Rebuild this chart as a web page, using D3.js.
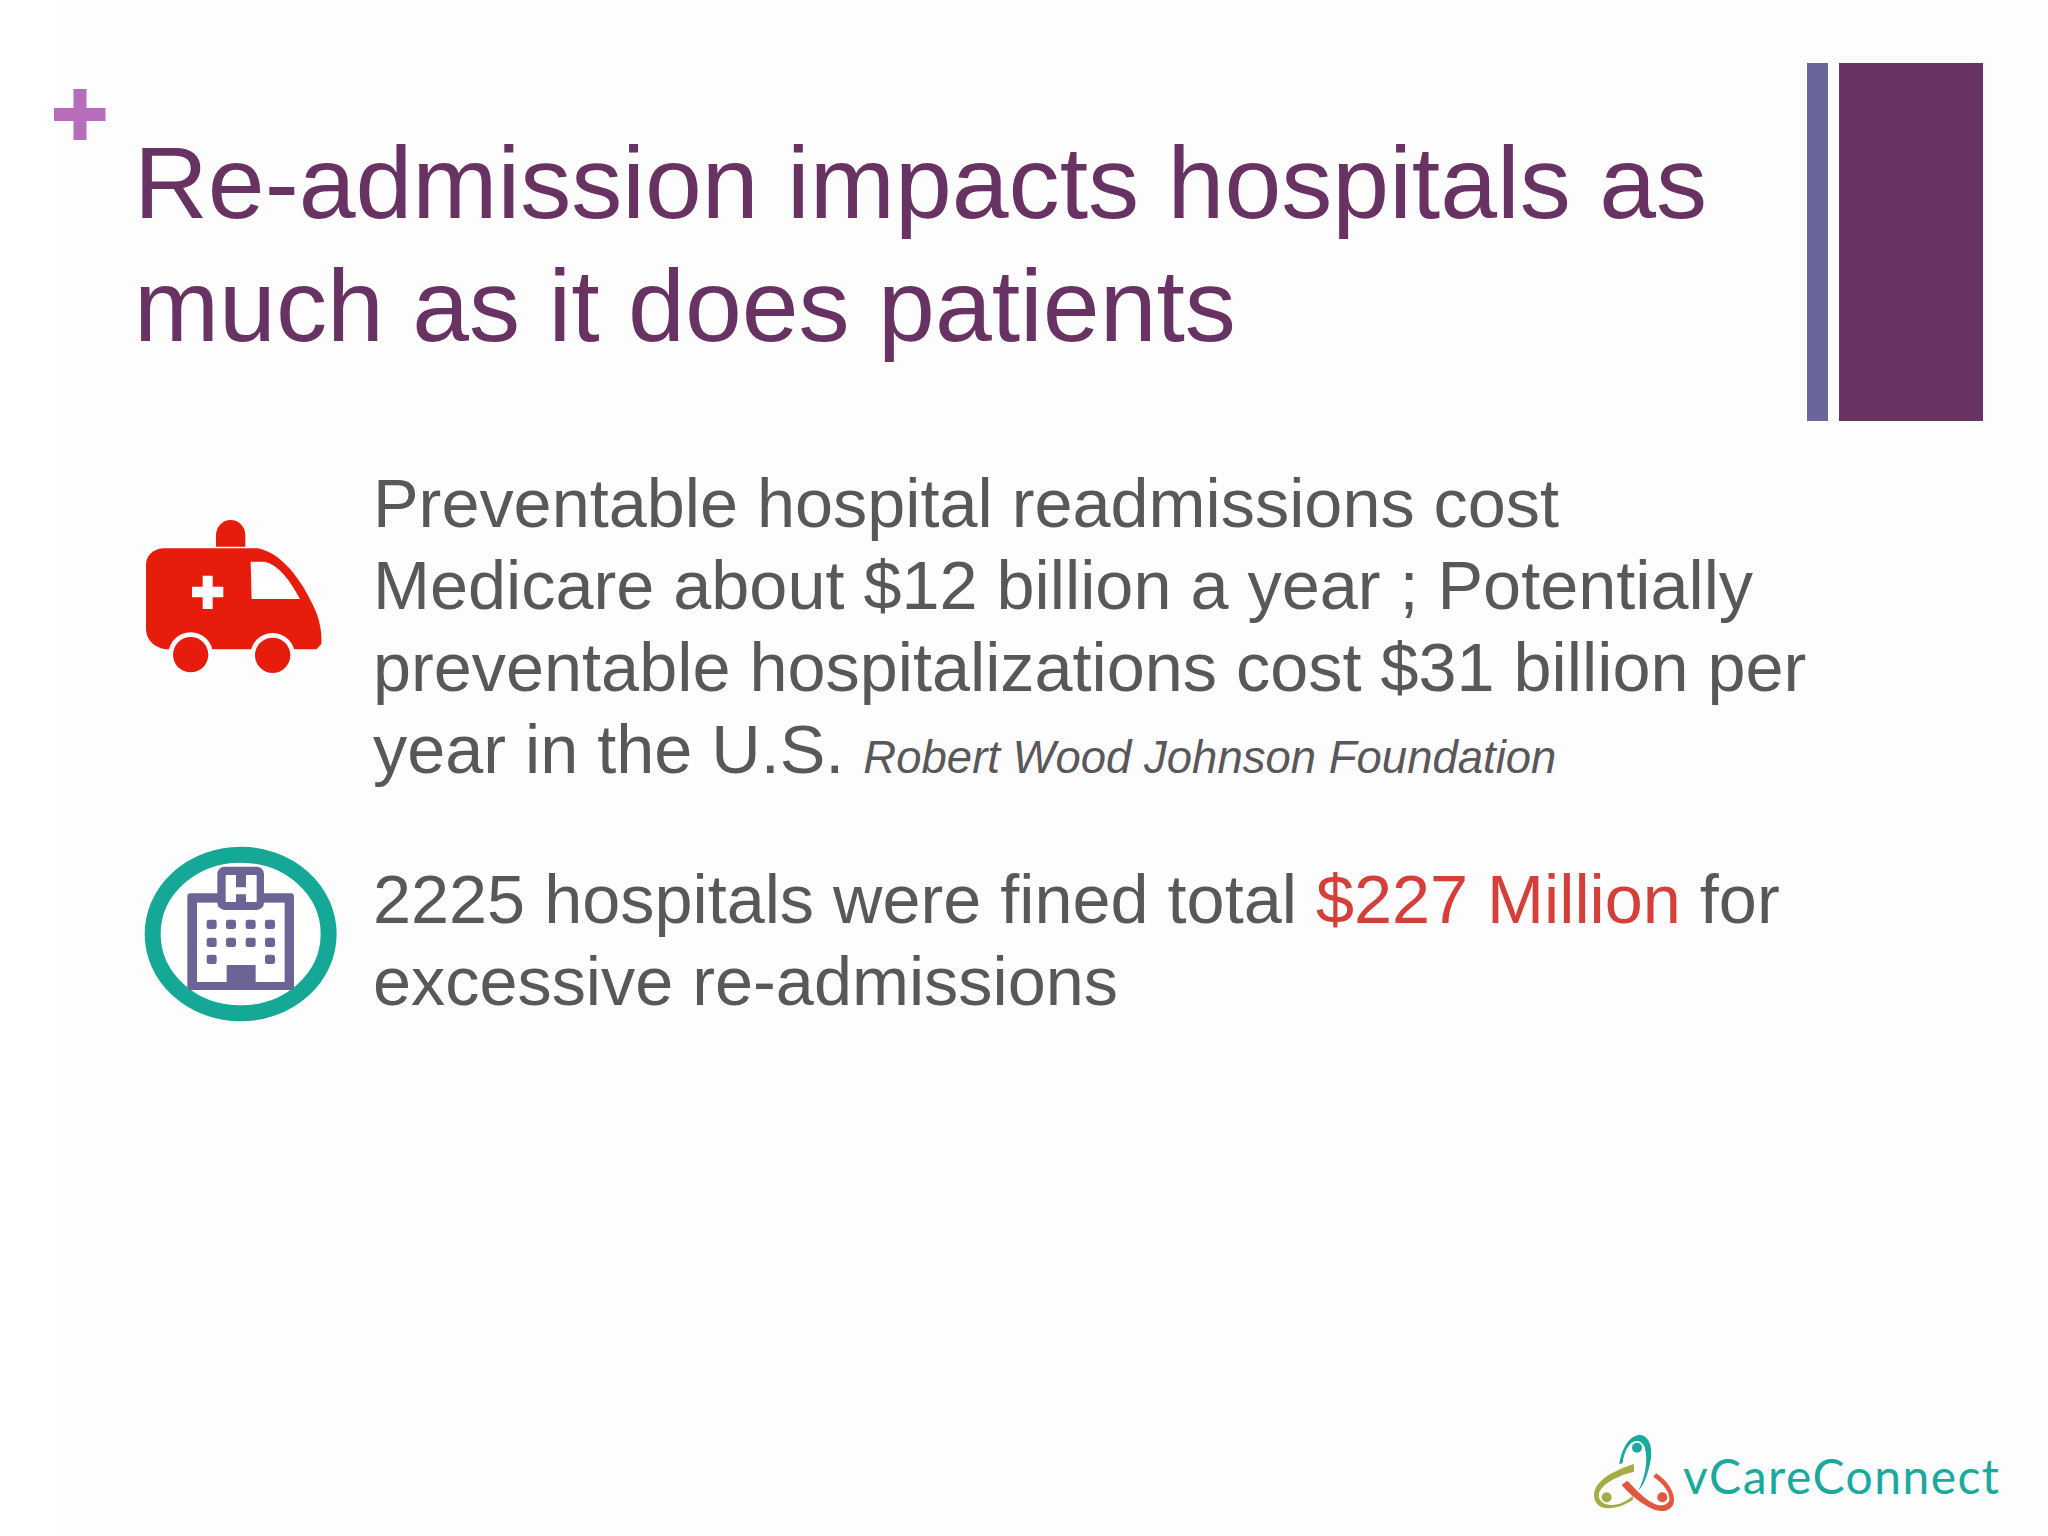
<!DOCTYPE html>
<html><head><meta charset="utf-8">
<script src="https://cdn.jsdelivr.net/npm/d3@7"></script>
<style>html,body{margin:0;padding:0;background:#fff}svg{display:block}</style>
</head><body><div id="c"></div>
<script>
const titleLines = ["Re-admission impacts hospitals as", "much as it does patients"];
const bodyLines = [
  [{t:"Preventable hospital readmissions cost"}],
  [{t:"Medicare about $12 billion a year ; Potentially"}],
  [{t:"preventable hospitalizations cost $31 billion per"}],
  [{t:"year in the U.S. "},{t:"Robert Wood Johnson Foundation",src:true}],
  [{t:"2225 hospitals were fined total "},{t:"$227 Million",hi:true},{t:" for"}],
  [{t:"excessive re-admissions"}]
];
const bodyBaselines = [527,609,691,773,923,1005];
const logoText = "vCareConnect";

const svg = d3.select("#c").append("svg").attr("width",2048).attr("height",1536);
const defs = svg.append("defs");
defs.append("filter").attr("id","soft").append("feGaussianBlur").attr("stdDeviation",2);
defs.append("filter").attr("id","softer").append("feGaussianBlur").attr("stdDeviation",1);

svg.append("rect").attr("width",2048).attr("height",1536).attr("fill","#ffffff");
svg.append("rect").attr("x",62).attr("width",1986).attr("height",1536).attr("fill","#fefdfe");

// accent bars and plus
svg.append("rect").attr("x",1807).attr("y",63).attr("width",21).attr("height",358).attr("fill","#69669a");
svg.append("rect").attr("x",1839).attr("y",63).attr("width",144).attr("height",358).attr("fill","#683363");
svg.append("path").attr("fill","#b76cbc").attr("d","M73.5 89h13v19h19v13h-19v19h-13v-19h-19.500v-13h19.500z");

// title
svg.selectAll("text.title").data(titleLines).join("text").attr("class","title")
  .attr("x",134).attr("y",(d,i)=>218+i*123)
  .attr("font-family","Liberation Sans").attr("font-size",102.2).attr("fill","#683363").text(d=>d);

// body
const body = svg.selectAll("text.body").data(bodyLines).join("text").attr("class","body")
  .attr("x",373).attr("y",(d,i)=>bodyBaselines[i])
  .attr("font-family","Liberation Sans").attr("font-size",68.4).attr("fill","#59575a");
body.selectAll("tspan").data(d=>d).join("tspan")
  .attr("xml:space","preserve")
  .style("white-space","pre")
  .attr("font-size",d=>d.src?45.5:null)
  .attr("font-style",d=>d.src?"italic":null)
  .attr("fill",d=>d.hi?"#d43f3a":null)
  .text(d=>d.t);

// ambulance
const amb = svg.append("g").attr("transform","translate(120,500) scale(0.3333)").attr("filter","url(#softer)");
amb.append("path").attr("fill","#e61e0e").attr("d","M288 140V105A44 45 0 0 1 376 105V140Z");
amb.append("path").attr("fill","#e61e0e").attr("d","M130 145H415C480 160 540 225 590 340C602 375 606 405 604 432L590 448H272L145 448C110 448 78 425 78 385V195C78 165 100 148 130 145Z");
amb.append("circle").attr("cx",212).attr("cy",464).attr("r",67).attr("fill","#fff");
amb.append("circle").attr("cx",458).attr("cy",466).attr("r",67).attr("fill","#fff");
amb.append("circle").attr("cx",212).attr("cy",464).attr("r",53).attr("fill","#e61e0e");
amb.append("circle").attr("cx",458).attr("cy",466).attr("r",53).attr("fill","#e61e0e");
amb.append("path").attr("fill","#fff").attr("d","M392 185H435C475 195 510 240 540 297H395Z");
amb.append("path").attr("fill","#fff").attr("d","M248 227H278V260H310V292H278V327H248V292H216V260H248Z");

// hospital
const hosp = svg.append("g").attr("transform","translate(130,830) scale(0.3333)").attr("filter","url(#soft)");
const purple = "#6a6595";
hosp.append("ellipse").attr("cx",332).attr("cy",312).attr("rx",264).attr("ry",238).attr("fill","#fff").attr("stroke","#16a896").attr("stroke-width",48);
hosp.append("rect").attr("x",172).attr("y",190).attr("width",320).attr("height",290).attr("rx",10).attr("fill",purple);
hosp.append("rect").attr("x",201).attr("y",218).attr("width",263).attr("height",238).attr("fill","#fff");
hosp.append("rect").attr("x",262).attr("y",110).attr("width",140).attr("height",130).attr("rx",22).attr("fill",purple);
hosp.append("path").attr("fill","#fff").attr("d","M287 135H318V172H348V135H380V216H348V193H318V216H287Z");
const winX=[245,303,362,420], winY=[283,337];
winY.forEach(y=>winX.forEach(x=>hosp.append("rect").attr("x",x-15).attr("y",y-14).attr("width",30).attr("height",28).attr("rx",7).attr("fill",purple)));
[245,420].forEach(x=>hosp.append("rect").attr("x",x-15).attr("y",374).attr("width",30).attr("height",28).attr("rx",7).attr("fill",purple));
hosp.append("rect").attr("x",290).attr("y",405).attr("width",87).attr("height",60).attr("fill",purple);

// logo
const logo = svg.append("g").attr("transform","translate(1570,1420) scale(0.3333)").attr("filter","url(#soft)");
logo.append("path").attr("fill","#1aa99d").attr("d","M148 132C155 85 180 42 212 45C245 50 250 100 238 140C230 170 222 195 205 212C225 175 235 120 225 85C218 62 195 55 178 75C165 92 160 110 158 130Z");
logo.append("path").attr("fill","#a3ac45").attr("d","M192 132V155C150 165 105 185 88 215C80 240 100 255 125 255C150 255 170 243 188 228L190 238C165 258 125 270 95 262C70 250 65 220 82 195C105 165 150 145 192 132Z");
logo.append("path").attr("fill","#e0583f").attr("d","M172 182C195 205 220 235 250 250C270 262 295 255 298 240C302 220 280 190 250 170L258 160C290 180 315 215 312 245C308 270 280 280 250 268C215 253 180 225 155 195Z");
logo.append("circle").attr("cx",201).attr("cy",83).attr("r",15).attr("fill","#1aa99d");
logo.append("circle").attr("cx",110).attr("cy",232).attr("r",15).attr("fill","#a3ac45");
logo.append("circle").attr("cx",277).attr("cy",232).attr("r",15).attr("fill","#e0583f");
svg.append("text").attr("x",1683).attr("y",1494).attr("font-family","Lato").attr("font-size",48).attr("letter-spacing",1.45).attr("fill","#1aa99d").text(logoText);
</script></body></html>
